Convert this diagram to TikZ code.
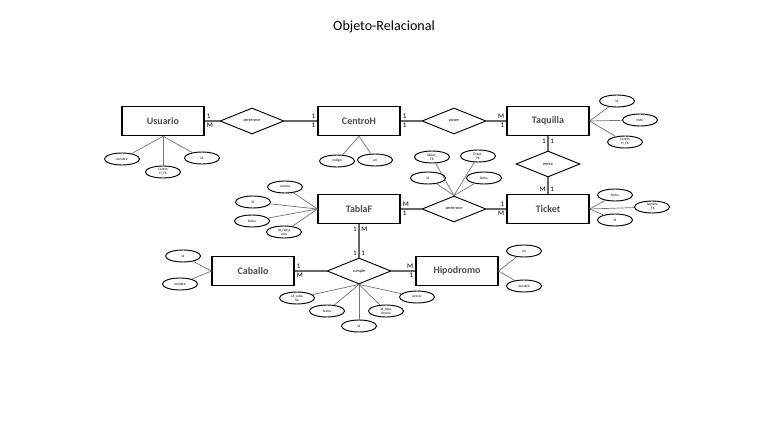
\documentclass[tikz,border=0pt]{standalone}
\usepackage{fontspec}
\setmainfont{Carlito}
\usetikzlibrary{shapes.geometric}

\begin{document}
\begin{tikzpicture}[
    x=0.03cm, y=-0.03cm,
    entity/.style={draw, line width=1pt, minimum width=2.46cm, minimum height=0.88cm, inner sep=0pt, font=\fontsize{8.5}{10}\selectfont\bfseries, text=black!70},
    relation/.style={draw, diamond, line width=0.8pt, aspect=2.4, minimum width=1.92cm, minimum height=0.78cm, inner sep=0pt, font=\fontsize{3.5}{4}\selectfont},
    attrib/.style={draw, ellipse, line width=0.8pt, minimum width=1.05cm, minimum height=0.36cm, inner sep=0pt, align=center, font=\fontsize{3}{3.4}\selectfont},
    conn/.style={line width=0.9pt, draw=black!60},
    attr/.style={line width=0.6pt, draw=black!55},
    card/.style={font=\fontsize{6}{7}\selectfont, inner sep=1.5pt}
]
\useasboundingbox (0,0) rectangle (768,433);

\node[font=\fontsize{12}{14}\selectfont] (title) at (384,27) {Objeto-Relacional};

% entidades
\node[entity] (usuario) at (163,121) {Usuario};
\node[entity] (centroh) at (359,121) {CentroH};
\node[entity] (taquilla) at (548,121) {Taquilla};
\node[entity] (tablaf) at (359,209) {TablaF};
\node[entity] (ticket) at (548,209) {Ticket};
\node[entity] (caballo) at (253,271) {Caballo};
\node[entity] (hipodromo) at (457,271) {Hipodromo};

% relaciones
\node[relation] (pertenece) at (252,121) {pertenece};
\node[relation] (posee) at (454,121) {posee};
\node[relation] (emite) at (548,164) {emite};
\node[relation] (pertenece2) at (454,209) {pertenece};
\node[relation] (cumple) at (359,271) {cumple};

% atributos
\node[attrib] (u_nombre) at (122,159) {nombre};
\node[attrib] (u_centro) at (163,172) {Centro\\H\_FK};
\node[attrib] (u_id) at (202,158) {id};
\node[attrib] (c_codigo) at (337,161) {codigo};
\node[attrib] (c_url) at (375,160) {url};
\node[attrib] (t_id) at (617,101) {id};
\node[attrib] (t_mac) at (640,120) {MAC};
\node[attrib] (t_centro) at (625,142) {Centro\\H\_FK};
\node[attrib] (p_tablaf) at (432,157) {TablaF\_\\FK};
\node[attrib] (p_ticket) at (478,156) {Ticket\_\\FK};
\node[attrib] (p_id) at (428,178) {id};
\node[attrib] (p_fecha) at (484,178) {fecha};
\node[attrib] (f_carrera) at (285,187) {carrera};
\node[attrib] (f_id) at (253,202) {id};
\node[attrib] (f_fecha) at (252,221) {fecha};
\node[attrib] (f_camp) at (284,232) {Id\_camp\\eón};
\node[attrib] (k_fecha) at (615,195) {fecha};
\node[attrib] (k_taquilla) at (652,207) {Taquilla\\\_FK};
\node[attrib] (k_id) at (615,220) {id};
\node[attrib] (b_id) at (183,256) {id};
\node[attrib] (b_nombre) at (180,284) {nombre};
\node[attrib] (m_caballo) at (297,298) {Id\_caba\\llo};
\node[attrib] (m_fecha) at (327,311) {fecha};
\node[attrib] (m_id) at (359,326) {id};
\node[attrib] (m_hipo) at (386,311) {Id\_hipo\\dromo};
\node[attrib] (m_precio) at (417,297) {precio};
\node[attrib] (h_url) at (524,251) {url};
\node[attrib] (h_nombre) at (524,286) {nombre};

% conexiones
\draw[conn] (usuario) -- (pertenece) node[card, pos=0, above right]{1} node[card, pos=0, below right]{M};
\draw[conn] (pertenece) -- (centroh) node[card, pos=1, above left]{1} node[card, pos=1, below left]{1};
\draw[conn] (centroh) -- (posee) node[card, pos=0, above right]{1} node[card, pos=0, below right]{1};
\draw[conn] (posee) -- (taquilla) node[card, pos=1, above left]{M} node[card, pos=1, below left]{1};
\draw[conn] (taquilla) -- (emite) node[card, pos=0, below left]{1} node[card, pos=0, below right]{1};
\draw[conn] (emite) -- (ticket) node[card, pos=1, above left]{M} node[card, pos=1, above right]{1};
\draw[conn] (tablaf) -- (pertenece2) node[card, pos=0, above right]{M} node[card, pos=0, below right]{1};
\draw[conn] (pertenece2) -- (ticket) node[card, pos=1, above left]{1} node[card, pos=1, below left]{M};
\draw[conn] (tablaf) -- (cumple) node[card, pos=0, below left]{1} node[card, pos=0, below right]{M}
    node[card, pos=1, above left]{1} node[card, pos=1, above right]{1};
\draw[conn] (caballo) -- (cumple) node[card, pos=0, above right]{1} node[card, pos=0, below right]{M};
\draw[conn] (cumple) -- (hipodromo) node[card, pos=1, above left]{M} node[card, pos=1, below left]{1};

\foreach \a in {u_nombre,u_centro,u_id} \draw[attr] (usuario.south) -- (\a);
\foreach \a in {c_codigo,c_url} \draw[attr] (centroh.south) -- (\a);
\foreach \a in {t_id,t_mac,t_centro} \draw[attr] (taquilla.east) -- (\a);
\foreach \a in {p_tablaf,p_ticket,p_id,p_fecha} \draw[attr] (pertenece2.north) -- (\a);
\foreach \a in {f_carrera,f_id,f_fecha,f_camp} \draw[attr] (tablaf.west) -- (\a);
\foreach \a in {k_fecha,k_taquilla,k_id} \draw[attr] (ticket.east) -- (\a);
\foreach \a in {b_id,b_nombre} \draw[attr] (caballo.west) -- (\a);
\foreach \a in {m_caballo,m_fecha,m_id,m_hipo,m_precio} \draw[attr] (cumple.south) -- (\a);
\foreach \a in {h_url,h_nombre} \draw[attr] (hipodromo.east) -- (\a);

\end{tikzpicture}
\end{document}
